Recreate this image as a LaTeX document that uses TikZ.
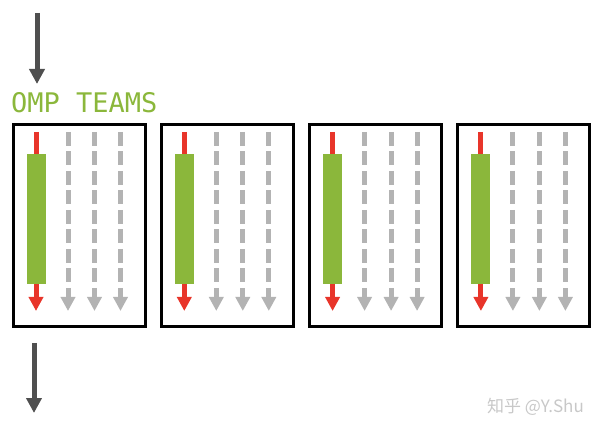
\documentclass[tikz,border=0pt]{standalone}
\usepackage{fontspec}
\usepackage{xcolor}
\usepackage{tikz}
\usetikzlibrary{arrows.meta,positioning}
\newfontfamily\monofont{DejaVu Sans Mono}
\newfontfamily\cjkfont{Noto Sans CJK SC}
\definecolor{teamgreen}{HTML}{8BB73B}
\definecolor{masterred}{HTML}{E8352A}
\definecolor{threadgray}{HTML}{B3B3B3}
\definecolor{flowgray}{HTML}{4F4F4F}
\definecolor{markgray}{HTML}{C8C8C8}

\begin{document}
\begin{tikzpicture}[x=1pt,y=-1pt,
    teambox/.style={draw=black,line width=3pt,minimum width=132pt,minimum height=202pt,inner sep=0pt,anchor=north west},
    masterbar/.style={fill=teamgreen,minimum width=19pt,minimum height=130pt,inner sep=0pt},
    master/.style={masterred,line width=5pt,-{Triangle[width=14pt,length=14pt]}},
    worker/.style={threadgray,line width=5pt,dash pattern=on 14pt off 5.5pt,-{Triangle[width=14pt,length=14pt]}},
    flow/.style={flowgray,line width=5pt,-{Triangle[width=15pt,length=15pt]}}]
\useasboundingbox (0,0) rectangle (600,430);

% flow into and out of the teams
\coordinate (in-top) at (37,13);
\coordinate (in-end) at (37,84);
\draw[flow] (in-top) -- (in-end);
\coordinate (out-top) at (34,343);
\coordinate (out-end) at (34,413);
\draw[flow] (out-top) -- (out-end);

\node[anchor=base west,text=teamgreen,font=\monofont\fontsize{27}{30}\selectfont,inner sep=0pt] (label) at (11,113) {OMP TEAMS};

% one box per team
\foreach \i in {0,...,3} {
  \begin{scope}[xshift={\i*148.3pt}]
    \node[teambox] (team\i) at (11.5,123) {};
    \coordinate (m\i-top) at (36,132);
    \coordinate (m\i-end) at (36,311);
    \draw[master] (m\i-top) -- (m\i-end);
    \node[masterbar] (bar\i) at (36,219) {};
    \foreach \t/\dx in {1/68,2/94.5,3/120.5} {
      \coordinate (w\i\t-top) at (\dx,132);
      \coordinate (w\i\t-end) at (\dx,311);
      \draw[worker] (w\i\t-top) -- (w\i\t-end);
    }
  \end{scope}
}

\node[anchor=base east,text=markgray,font=\cjkfont\fontsize{17}{19}\selectfont,inner sep=0pt] (mark) at (584,412) {知乎~@Y.Shu};
\end{tikzpicture}
\end{document}
